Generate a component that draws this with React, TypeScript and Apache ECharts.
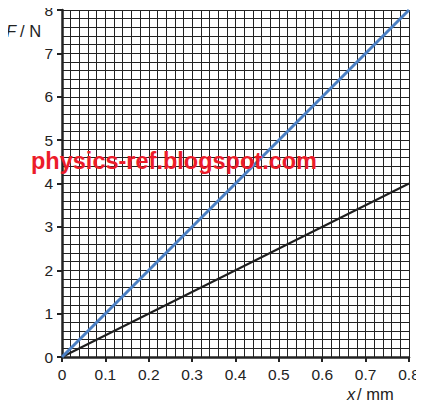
import { useRef, useEffect } from 'react';
import * as echarts from 'echarts';

const xTicks = [0, 0.1, 0.2, 0.3, 0.4, 0.5, 0.6, 0.7, 0.8];
const blueX = [0, 0.8];
const blueF = [0, 8];
const blackX = [0, 0.8];
const blackF = [0, 4];

const FONT = 'Liberation Sans, Arial, sans-serif';

const App = () => {
  const chartRef = useRef<HTMLDivElement>(null);

  useEffect(() => {
    if (!chartRef.current) return;
    const chart = echarts.init(chartRef.current, null, { renderer: 'svg' });

    const labelStyle = {
      color: '#222',
      fontSize: 15.5,
      fontFamily: FONT,
    };

    // italic symbol followed by an upright unit
    const axisName = (italic: string, rest: string, gap: number, left: number, top: number) => ({
      type: 'group',
      left,
      top,
      children: [
        {
          type: 'text',
          x: 0,
          y: 0,
          style: { text: italic, fill: '#222', fontSize: 16.5, fontStyle: 'italic', fontFamily: FONT },
        },
        {
          type: 'text',
          x: gap,
          y: 0,
          style: { text: rest, fill: '#222', fontSize: 16.5, fontFamily: FONT },
        },
      ],
    });

    const option = {
      animation: false,
      backgroundColor: '#fff',
      grid: { left: 62, top: 10, width: 347, height: 347 },
      xAxis: {
        type: 'value',
        min: 0,
        max: 0.8,
        interval: 0.1,
        axisLine: { show: true, onZero: false, lineStyle: { color: '#222', width: 2.5 } },
        axisTick: { show: true, length: 5, lineStyle: { color: '#222', width: 2 } },
        axisLabel: {
          ...labelStyle,
          margin: 9,
          formatter: (v: number) => {
            const t = xTicks.find((x) => Math.abs(x - v) < 1e-6);
            return String(t ?? v);
          },
        },
        splitLine: { show: true, lineStyle: { color: '#222', width: 1 } },
        minorTick: { show: false, splitNumber: 5 },
        minorSplitLine: { show: true, lineStyle: { color: '#222', width: 1 } },
      },
      yAxis: {
        type: 'value',
        min: 0,
        max: 8,
        interval: 1,
        axisLine: { show: true, onZero: false, lineStyle: { color: '#222', width: 2.5 } },
        axisTick: { show: true, length: 5, lineStyle: { color: '#222', width: 2 } },
        axisLabel: { ...labelStyle, margin: 9 },
        splitLine: { show: true, lineStyle: { color: '#222', width: 1 } },
        minorTick: { show: false, splitNumber: 5 },
        minorSplitLine: { show: true, lineStyle: { color: '#222', width: 1 } },
      },
      series: [
        {
          type: 'line',
          data: blueX.map((x, i) => [x, blueF[i]]),
          symbol: 'none',
          lineStyle: { color: '#4a7fc4', width: 3 },
          z: 5,
        },
        {
          type: 'line',
          data: blackX.map((x, i) => [x, blackF[i]]),
          symbol: 'none',
          lineStyle: { color: '#1e1e1e', width: 2 },
          z: 4,
        },
      ],
      graphic: [
        axisName('F', '/ N', 14, 6, 22),
        axisName('x', '/ mm', 10, 347, 385),
        {
          type: 'text',
          x: 174,
          y: 161,
          z: 100,
          style: {
            text: 'physics-ref.blogspot.com',
            fill: '#ec1c2a',
            fontSize: 23.5,
            fontWeight: 'bold',
            fontFamily: FONT,
            align: 'center',
            verticalAlign: 'middle',
          },
        },
      ],
    };

    chart.setOption(option);

    return () => {
      chart.dispose();
    };
  }, []);

  return <div ref={chartRef} style={{ width: 424, height: 408, margin: -8 }} />;
};

export default App;
